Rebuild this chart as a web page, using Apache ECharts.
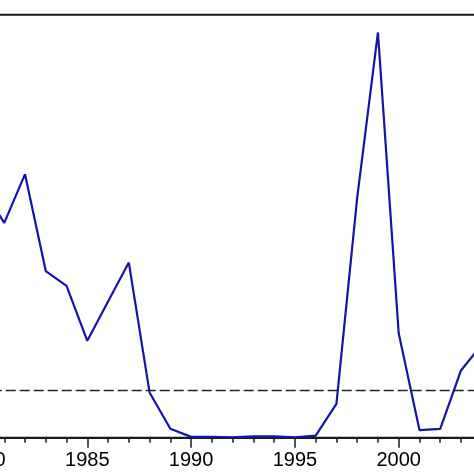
<!DOCTYPE html>
<html>
<head>
<meta charset="utf-8">
<script src="https://cdn.jsdelivr.net/npm/echarts@6/dist/echarts.min.js"></script>
<style>
html,body{margin:0;padding:0;background:#fff;}
#chart{width:474px;height:474px;}
</style>
</head>
<body>
<div id="chart"></div>
<script>
const years = [1980,1981,1982,1983,1984,1985,1986,1987,1988,1989,1990,1991,1992,1993,1994,1995,1996,1997,1998,1999,2000,2001,2002,2003,2004];
const values = [58.5,50.8,62.3,39.4,35.9,22.9,32.2,41.4,10.7,2.1,0.2,0.2,0.1,0.3,0.3,0.1,0.5,8.0,56.7,95.8,24.7,1.8,2.1,15.9,22.0];
const threshold = 11.1;
const xMin = 1975, xMax = 2005, xStep = 5;

const chart = echarts.init(document.getElementById('chart'), null, {renderer:'canvas'});
chart.setOption({
  animation: false,
  backgroundColor: '#ffffff',
  grid: {
    left: -120.3, right: -28.5, top: 14.7, bottom: 36.3,
    containLabel: false, outerBoundsMode: 'none',
    show: true, borderColor: '#1a1a1a', borderWidth: 2, backgroundColor: 'transparent'
  },
  xAxis: {
    type: 'value', min: xMin, max: xMax, interval: xStep,
    axisLine: {show: true, onZero: false, lineStyle: {color: '#1a1a1a', width: 2}},
    axisTick: {show: true, length: 10, lineStyle: {color: '#1a1a1a', width: 1.5}},
    minorTick: {show: true, splitNumber: 5, length: 5, lineStyle: {color: '#1a1a1a', width: 1.5}},
    splitLine: {show: false},
    axisLabel: {
      show: true, color: '#000', fontFamily: 'Liberation Sans, Arial, sans-serif',
      fontSize: 20, margin: 13, formatter: v => String(v)
    }
  },
  yAxis: {
    type: 'value', min: 0, max: 100,
    show: false, splitLine: {show: false}
  },
  series: [{
    type: 'line',
    data: years.map((y, i) => [y, values[i]]),
    showSymbol: false,
    symbol: 'none',
    lineStyle: {color: '#1414aa', width: 2.2},
    clip: true,
    markLine: {
      silent: true,
      symbol: ['none', 'none'],
      label: {show: false},
      lineStyle: {color: '#222222', type: [10, 4], width: 1.3},
      data: [{yAxis: threshold}]
    }
  }]
});
</script>
</body>
</html>
